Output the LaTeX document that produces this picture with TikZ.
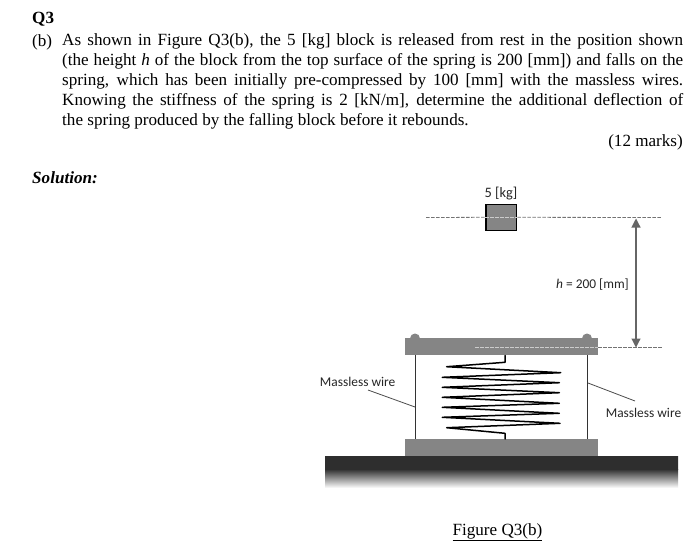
\documentclass[tikz,border=0pt]{standalone}
\usepackage{fontspec}
\setmainfont{Liberation Serif}
\newfontfamily\labelfont{Carlito}
\usetikzlibrary{arrows.meta}
\definecolor{plategray}{gray}{0.52}
\definecolor{wiregray}{gray}{0.3}
\tikzset{
  plate/.style={fill=plategray,draw=none,minimum width=193pt,minimum height=17pt,inner sep=0pt},
  knob/.style={circle,fill=plategray,draw=none,minimum size=10pt,inner sep=0pt},
  wire/.style={draw=black!80,line width=0.9pt},
  leader/.style={draw=wiregray,line width=0.8pt},
  datum/.style={draw=black!55,dashed,dash pattern=on 3.5pt off 1.5pt,line width=0.8pt},
  datumlight/.style={draw=white!80!black,dashed,dash pattern=on 3.5pt off 1.5pt,line width=0.8pt},
  labeltext/.style={font=\labelfont\fontsize{13.4}{16}\selectfont,text=black!85,inner sep=0pt},
  prose/.style={font=\fontsize{17.1}{19.95}\selectfont,inner sep=0pt,anchor=north west}
}
\begin{document}
\begin{tikzpicture}[x=1pt,y=-1pt]
\useasboundingbox (0,0) rectangle (700,549);
\fill[white] (0,0) rectangle (700,549);
% text
\node[prose,anchor=west,font=\fontsize{17.1}{19.85}\selectfont\bfseries] (q) at (32,19) {Q3};
\node[prose,anchor=base west] (b) at (32,46) {(b)};
\node[prose,anchor=north west,text width=621pt,align=justify] (body) at (62,33.3) {As shown in Figure Q3(b), the 5 [kg] block is released from rest in the position shown\linebreak (the height \textit{h} of the block from the top surface of the spring is 200 [mm]) and falls on the\linebreak spring, which has been initially pre-compressed by 100 [mm] with the massless wires.\linebreak Knowing the stiffness of the spring is 2 [kN/m], determine the additional deflection of\linebreak the spring produced by the falling block before it rebounds.};
\node[prose,anchor=east] (marks) at (683,142.5) {(12 marks)};
\node[prose,anchor=west,font=\fontsize{17.1}{19.85}\selectfont\bfseries\itshape] (sol) at (32,177.5) {Solution:};
\node[prose,anchor=center] (fig) at (497.5,532) {\underline{Figure Q3(b)}};
% ground
\shade[top color=black!82,bottom color=black!82] (325,456) rectangle (678,469);
\shade[top color=black!82,bottom color=white] (325,469) rectangle (678,488);
% plates
\node[knob] (k1) at (415,338.5) {};
\node[knob] (k2) at (587,338.5) {};
\node[plate,anchor=north west] (top) at (405,338) {};
\node[plate,anchor=north west] (bot) at (405,439) {};
% wires
\coordinate (w1t) at (415.5,355); \coordinate (w1b) at (415.5,439);
\coordinate (w2t) at (587,355); \coordinate (w2b) at (587,439);
\draw[wire] (w1t) -- (w1b);
\draw[wire] (w2t) -- (w2b);
% spring
\coordinate (st) at (505,355.5);
\coordinate (sb) at (505,439);
\draw[black,line width=1.5pt,line join=round,line cap=round] (st) -- (505,362.3) -- (446.7,366.7) -- (560.7,372.7) -- (442.3,377.3) -- (559.3,382.7) -- (442.3,387.3) -- (559.3,392.7) -- (442.3,397.3) -- (559.3,403.3) -- (442.3,407.3) -- (559.3,413.3) -- (442.3,417.3) -- (560,423.3) -- (446.7,427.7) -- (505,433.3) -- (sb);
% block
\node[draw=black,fill=plategray,line width=1.4pt,minimum width=30.5pt,minimum height=26pt,inner sep=0pt] (block) at (501.3,217.3) {};
\node[labeltext,font=\labelfont\fontsize{14.4}{16}\selectfont] (mass) at (501,194) {5 [kg]};
% datums
\coordinate (d1a) at (426,217.5); \coordinate (d1b) at (662,217.5);
\coordinate (d2a) at (475,347.7); \coordinate (d2m) at (598,347.7); \coordinate (d2b) at (662,347.7);
\draw[datum] (d1a) -- (block.west);
\draw[datumlight] (block.west) -- (block.east);
\draw[datum] (block.east) -- (d1b);
\draw[datumlight] (d2a) -- (d2m);
\draw[datum] (d2m) -- (d2b);
% dimension
\coordinate (ha) at (636,218.5); \coordinate (hb) at (636,347.5);
\draw[draw=black!60,line width=1.1pt,{Triangle[length=9pt,width=9pt]}-{Triangle[length=9pt,width=9pt]}] (ha) -- (hb);
\node[labeltext] (hlab) at (592.5,285) {\textit{h} = 200 [mm]};
% leaders
\node[labeltext] (ml) at (357.7,381.5) {Massless wire};
\node[labeltext] (mr) at (643.5,412.5) {Massless wire};
\coordinate (l1) at (368,390); \coordinate (l2) at (415,407);
\coordinate (r1) at (588,383); \coordinate (r2) at (635,401);
\draw[leader] (l1) -- (l2);
\draw[leader] (r1) -- (r2);
\end{tikzpicture}
\end{document}
